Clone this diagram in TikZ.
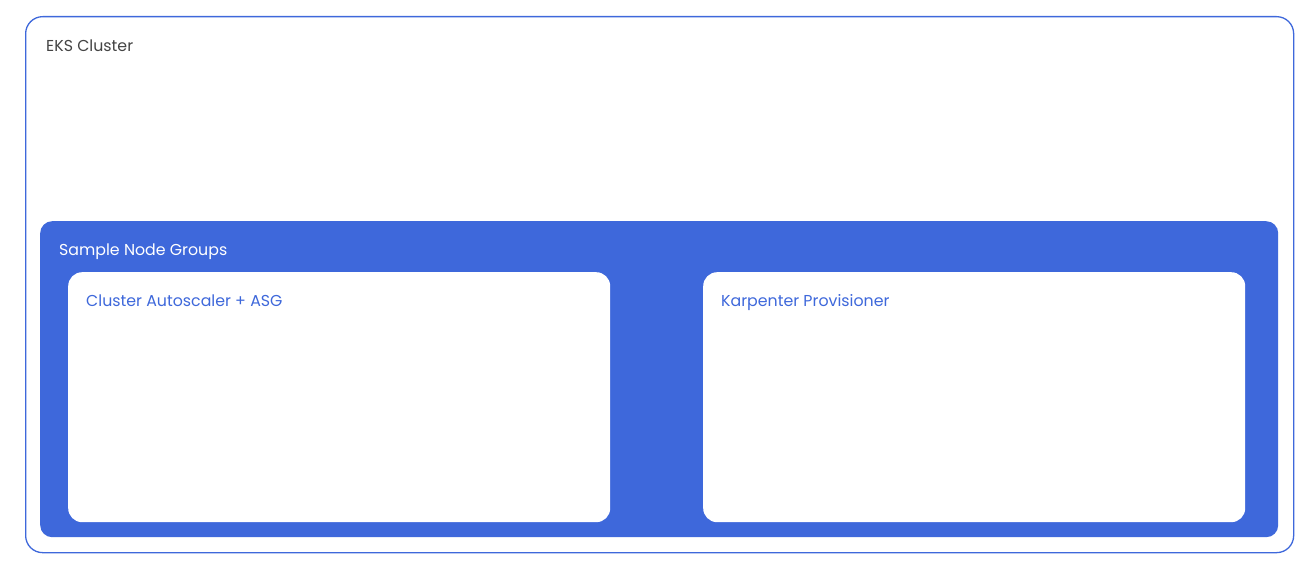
\documentclass[tikz,border=0pt]{standalone}
\usepackage{fontspec}
\setmainfont{Poppins}
\usetikzlibrary{positioning}

\definecolor{eksblue}{RGB}{62,104,219}
\definecolor{eksgray}{RGB}{68,68,68}

\tikzset{
  cluster/.style={draw=eksblue, line width=1.3pt, rounded corners=17pt, fill=white},
  group/.style={fill=eksblue, rounded corners=12pt},
  pool/.style={fill=white, rounded corners=14pt},
  title/.style={anchor=base west, inner sep=0pt, font=\fontsize{15.8}{19}\selectfont}
}

\begin{document}
\begin{tikzpicture}[x=1pt, y=-1pt]
    \useasboundingbox (0,0) rectangle (1315,564);

    \node[cluster, minimum width=1268pt, minimum height=536pt, anchor=north west] (eks) at (25,16) {};
    \node[group, minimum width=1238pt, minimum height=316pt, anchor=north west] (ng) at (40,221) {};
    \node[pool, minimum width=542pt, minimum height=250pt, anchor=north west] (cas) at (68,272) {};
    \node[pool, minimum width=542pt, minimum height=250pt, anchor=north west] (karp) at (703,272) {};

    \node[title, text=eksgray] (eksl) at (46,52) {EKS Cluster};
    \node[title, text=white] (ngl) at (59,255) {Sample Node Groups};
    \node[title, text=eksblue] (casl) at (86,306) {Cluster Autoscaler + ASG};
    \node[title, text=eksblue] (karpl) at (721,306) {Karpenter Provisioner};
\end{tikzpicture}
\end{document}
